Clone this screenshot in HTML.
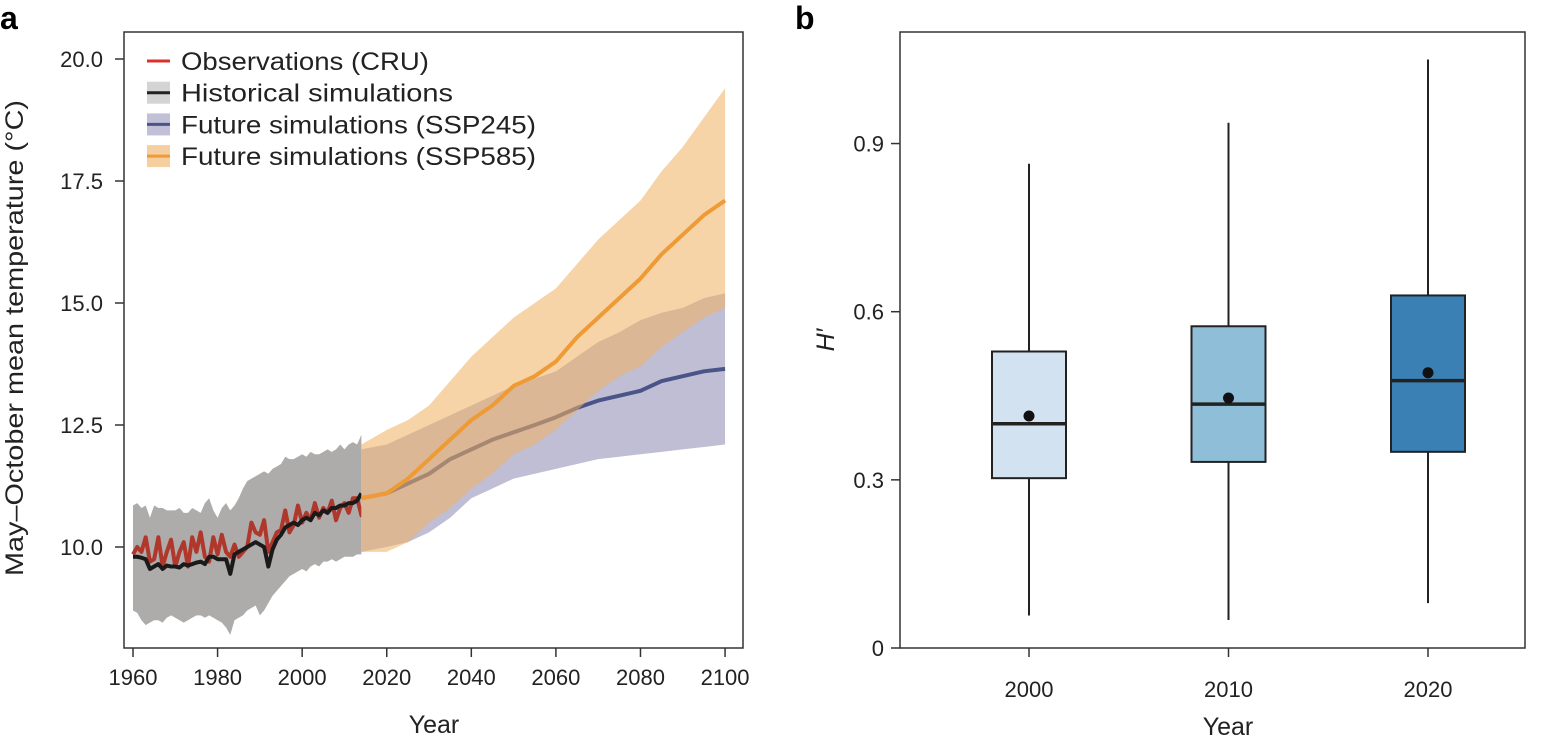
<!DOCTYPE html>
<html><head><meta charset="utf-8"><style>
body{margin:0;background:#fff;}
svg{display:block;font-family:"Liberation Sans",sans-serif;}
</style></head><body>
<svg id="c" width="1549" height="737" viewBox="0 0 1549 737"></svg>
<script>
// ---- panel a data ----
const obsYears=[1960,1961,1962,1963,1964,1965,1966,1967,1968,1969,1970,1971,1972,1973,1974,1975,1976,1977,1978,1979,1980,1981,1982,1983,1984,1985,1986,1987,1988,1989,1990,1991,1992,1993,1994,1995,1996,1997,1998,1999,2000,2001,2002,2003,2004,2005,2006,2007,2008,2009,2010,2011,2012,2013,2014,2015,2016,2017,2018,2019,2020];
const obsVals=[9.85,10.0,9.9,10.2,9.7,9.75,10.2,9.6,9.9,10.15,9.6,9.9,10.1,9.6,10.2,9.9,10.3,9.8,9.7,10.2,9.85,10.25,9.9,9.8,10.05,9.8,9.9,10.0,10.5,10.3,10.25,10.55,9.9,10.1,10.3,10.35,10.75,10.3,10.45,10.85,10.5,10.7,10.55,10.9,10.6,10.8,10.7,10.95,10.55,10.8,10.9,10.7,11.0,11.0,10.65,11.0,10.85,11.15,10.75,11.0,10.85];
const histYears=obsYears.slice(0,55);
const histMean=[9.8,9.8,9.78,9.75,9.55,9.6,9.65,9.55,9.62,9.6,9.6,9.58,9.65,9.62,9.65,9.68,9.7,9.65,9.8,9.8,9.75,9.75,9.75,9.45,9.85,9.9,9.95,10.0,10.05,10.1,10.05,10.0,9.6,9.95,10.15,10.25,10.4,10.45,10.5,10.45,10.55,10.6,10.55,10.7,10.65,10.75,10.7,10.8,10.8,10.85,10.85,10.9,10.9,10.95,11.1];
const histUpper=[10.85,10.9,10.8,10.85,10.6,10.85,10.8,10.8,10.75,10.75,10.75,10.8,10.7,10.7,10.8,10.75,10.7,10.9,11.0,10.75,10.6,10.8,10.9,10.75,10.85,11.0,11.2,11.35,11.4,11.45,11.5,11.55,11.5,11.6,11.65,11.7,11.85,11.8,11.8,11.85,11.9,11.85,11.95,11.9,11.9,11.95,12.0,11.95,12.0,12.1,12.0,12.1,12.15,12.1,12.3];
const histLower=[8.7,8.65,8.5,8.4,8.45,8.5,8.5,8.45,8.55,8.6,8.55,8.5,8.45,8.5,8.55,8.6,8.6,8.55,8.6,8.55,8.5,8.45,8.35,8.2,8.5,8.55,8.6,8.7,8.75,8.8,8.6,8.7,8.85,9.0,9.1,9.2,9.3,9.4,9.45,9.5,9.55,9.5,9.6,9.65,9.6,9.7,9.7,9.75,9.7,9.75,9.8,9.8,9.8,9.85,9.85];
const futYears=[2014,2020,2025,2030,2035,2040,2045,2050,2055,2060,2065,2070,2075,2080,2085,2090,2095,2100];
const ssp585Mean=[11.0,11.1,11.4,11.8,12.2,12.6,12.9,13.3,13.5,13.8,14.3,14.7,15.1,15.5,16.0,16.4,16.8,17.1];
const ssp585Upper=[12.1,12.4,12.6,12.9,13.4,13.9,14.3,14.7,15.0,15.3,15.8,16.3,16.7,17.1,17.7,18.2,18.8,19.4];
const ssp585Lower=[9.9,9.9,10.1,10.5,10.8,11.2,11.5,11.9,12.1,12.4,12.8,13.2,13.5,13.7,14.1,14.4,14.7,14.9];
const ssp245Mean=[11.0,11.1,11.3,11.5,11.8,12.0,12.2,12.35,12.5,12.66,12.85,13.0,13.1,13.2,13.4,13.5,13.6,13.65];
const ssp245Upper=[12.0,12.1,12.3,12.5,12.7,12.9,13.1,13.3,13.45,13.6,13.9,14.2,14.4,14.65,14.8,14.9,15.1,15.2];
const ssp245Lower=[9.9,10.0,10.1,10.3,10.6,11.0,11.2,11.4,11.5,11.6,11.7,11.8,11.85,11.9,11.95,12.0,12.05,12.1];
const aTicksX=[1960,1980,2000,2020,2040,2060,2080,2100];
const aTicksY=["10.0","12.5","15.0","17.5","20.0"];
// ---- panel b data ----
const bCats=["2000","2010","2020"];
const bWhiskLo=[0.058,0.05,0.080];
const bQ1=[0.303,0.332,0.350];
const bMedian=[0.400,0.435,0.477];
const bQ3=[0.529,0.574,0.629];
const bWhiskHi=[0.864,0.937,1.050];
const bMean=[0.414,0.446,0.491];
const bTicksY=["0","0.3","0.6","0.9"];

const NS="http://www.w3.org/2000/svg";
const svg=document.getElementById('c');
function mk(t,a,p){const e=document.createElementNS(NS,t);for(const k in a)e.setAttribute(k,a[k]);(p||svg).appendChild(e);return e;}
const xa=yr=>133+(yr-1960)*4.229;
const ya=v=>547-(v-10)*48.8;
const xb=i=>1029+i*199.5;
const yb=v=>648-v*560.5;

let t=mk('text',{x:0,y:29,'font-size':32,'font-weight':'bold',fill:'#000'});t.textContent='a';

t=mk('text',{x:795,y:29,'font-size':32,'font-weight':'bold',fill:'#000'});t.textContent='b';


function band(xs,up,lo,fill,op,name){
  let d='M'+xs.map((x,i)=>xa(x)+','+ya(up[i])).join('L');
  d+='L'+xs.map((x,i)=>xa(x)+','+ya(lo[i])).reverse().join('L')+'Z';
  const p=mk('path',{d:d,fill:fill,'fill-opacity':op});
  
}
function line(xs,vs,col,w,name,op){
  const p=mk('polyline',{points:xs.map((x,i)=>xa(x)+','+ya(vs[i])).join(' '),fill:'none',stroke:col,'stroke-width':w,'stroke-linejoin':'round','stroke-opacity':op||1});
  
}
band(histYears,histUpper,histLower,'#aeabab',1,'historical-band');
line(obsYears,obsVals,'#b03025',4,'observations-line',0.95);
line(histYears,histMean,'#1a1a1a',4,'historical-mean-line');
band(futYears,ssp245Upper,ssp245Lower,'#c0bed4',1,'ssp245-band');
line(futYears,ssp245Mean,'#4a5488',4,'ssp245-mean-line');
band(futYears,ssp585Upper,ssp585Lower,'#f0b060',0.55,'ssp585-band');
line(futYears,ssp585Mean,'#ee9a35',4,'ssp585-mean-line');

r=mk('rect',{x:124,y:32,width:619,height:616,fill:'none',stroke:'#333','stroke-width':1.5});

aTicksX.forEach(yr=>{
  mk('line',{x1:xa(yr),x2:xa(yr),y1:648,y2:657,stroke:'#333','stroke-width':1.5});
  const e=mk('text',{x:xa(yr),y:685,'text-anchor':'middle','font-size':22,fill:'#222'});e.textContent=yr;
  
});
aTicksY.forEach(s=>{
  const v=parseFloat(s);
  mk('line',{x1:115,x2:124,y1:ya(v),y2:ya(v),stroke:'#333','stroke-width':1.5});
  const e=mk('text',{x:103,y:ya(v)+8,'text-anchor':'end','font-size':22,fill:'#222'});e.textContent=s;
  
});
t=mk('text',{x:434,y:733,'text-anchor':'middle','font-size':25,fill:'#222'});t.textContent='Year';

t=mk('text',{x:0,y:0,transform:'translate(23,338) rotate(-90)','text-anchor':'middle','font-size':25,fill:'#222','textLength':476,'lengthAdjust':'spacingAndGlyphs'});t.textContent='May–October mean temperature (°C)';


const legLabels=['Observations (CRU)','Historical simulations','Future simulations (SSP245)','Future simulations (SSP585)'];
const legBox=[null,'#d4d4d4','#c2c0d6','#f6cfa0'];
const legLine=['#d8322a','#222','#4a5488','#ee9a35'];
const legW=[248,272,355,355];
legLabels.forEach((s,i)=>{
  const y=61+i*31.7;
  const g=mk('g',{});
  
  if(legBox[i])mk('rect',{x:147,y:y-11,width:23,height:22,fill:legBox[i]},g);
  mk('line',{x1:147,x2:170,y1:y,y2:y,stroke:legLine[i],'stroke-width':3},g);
  const e=mk('text',{x:181,y:y+9,'font-size':25,fill:'#222','textLength':legW[i],'lengthAdjust':'spacingAndGlyphs'},g);e.textContent=s;
});

r=mk('rect',{x:900,y:32,width:625,height:616,fill:'none',stroke:'#333','stroke-width':1.5});

const boxCols=['#d2e2f1','#8fbfd8','#3a80b5'];
bCats.forEach((c,i)=>{
  const g=mk('g',{});
  
  const x=xb(i);
  mk('line',{x1:x,x2:x,y1:yb(bWhiskLo[i]),y2:yb(bWhiskHi[i]),stroke:'#222','stroke-width':2},g);
  mk('rect',{x:x-37,y:yb(bQ3[i]),width:74,height:yb(bQ1[i])-yb(bQ3[i]),fill:boxCols[i],stroke:'#222','stroke-width':2},g);
  mk('line',{x1:x-37,x2:x+37,y1:yb(bMedian[i]),y2:yb(bMedian[i]),stroke:'#222','stroke-width':3.5},g);
  mk('circle',{cx:x,cy:yb(bMean[i]),r:5.5,fill:'#111'},g);
  mk('line',{x1:x,x2:x,y1:648,y2:657,stroke:'#333','stroke-width':1.5});
  const e=mk('text',{x:x,y:697,'text-anchor':'middle','font-size':22,fill:'#222'});e.textContent=c;
  
});
bTicksY.forEach(s=>{
  const v=parseFloat(s);
  mk('line',{x1:891,x2:900,y1:yb(v),y2:yb(v),stroke:'#333','stroke-width':1.5});
  const e=mk('text',{x:884,y:yb(v)+8,'text-anchor':'end','font-size':22,fill:'#222'});e.textContent=s;
  
});
t=mk('text',{x:1228,y:735,'text-anchor':'middle','font-size':25,fill:'#222'});t.textContent='Year';

t=mk('text',{x:0,y:0,transform:'translate(834,340) rotate(-90)','text-anchor':'middle','font-size':25,'font-style':'italic',fill:'#222'});t.textContent='H′';

</script>
</body></html>
